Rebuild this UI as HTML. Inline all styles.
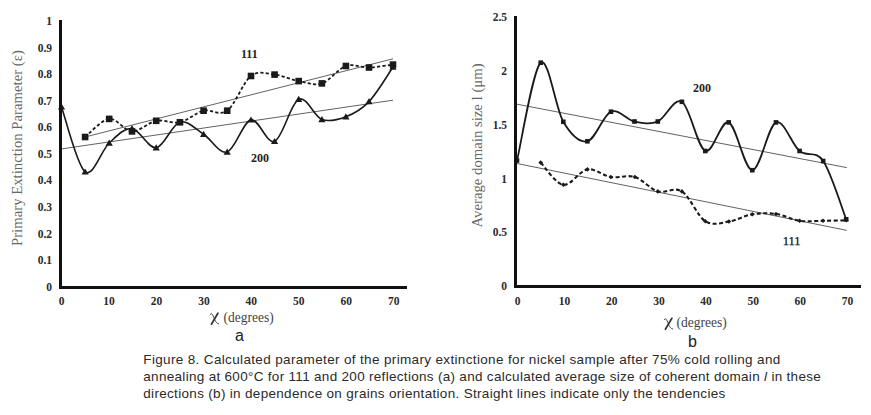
<!DOCTYPE html>
<html><head><meta charset="utf-8"><style>
html,body{margin:0;padding:0;background:#fff;width:871px;height:415px;overflow:hidden}
svg{position:absolute;left:0;top:0}
.cap{position:absolute;left:144px;top:350px;font-family:"Liberation Sans",sans-serif;font-size:13.4px;line-height:17.2px;color:#2a2a2a;white-space:nowrap}
</style></head><body>
<svg width="871" height="415" viewBox="0 0 871 415">
<g stroke="#3a3a3a" stroke-width="0.8" fill="none">
<line x1="85" y1="137" x2="393" y2="58.8"/>
<line x1="61" y1="149" x2="393" y2="100.2"/>
<line x1="517" y1="104.2" x2="846.8" y2="167.6"/>
<line x1="517" y1="163.5" x2="846.8" y2="230.4"/>
</g>
<g fill="none" stroke="#1a1a1a" stroke-width="1.8" stroke-linejoin="round">
<path d="M85.1,137.0 C89.1,134.0 101.4,119.8 109.2,118.9 C117.0,118.0 124.2,131.1 132.0,131.4 C139.8,131.7 148.2,122.3 156.2,120.8 C164.2,119.3 172.0,124.0 179.9,122.3 C187.8,120.6 195.7,112.6 203.6,110.7 C211.5,108.8 219.3,116.5 227.2,110.7 C235.1,104.9 243.1,82.0 251.0,76.0 C258.9,70.0 266.7,73.8 274.6,74.6 C282.6,75.4 290.8,79.6 298.7,81.1 C306.6,82.6 314.0,85.9 321.9,83.4 C329.8,80.9 338.0,68.7 345.9,66.0 C353.8,63.4 361.1,67.7 369.0,67.5 C376.9,67.3 389.0,65.1 393.0,64.6" stroke-width="1.8" stroke-dasharray="3.2,2.2"/>
<path d="M61.5,106.9 C65.4,117.7 77.1,165.9 85.1,171.9 C93.0,177.9 101.4,150.2 109.2,143.0 C117.0,135.8 124.2,127.8 132.0,128.6 C139.8,129.4 148.2,148.9 156.2,147.8 C164.2,146.7 172.0,124.2 179.9,122.0 C187.8,119.8 195.7,129.3 203.6,134.3 C211.5,139.3 219.3,154.4 227.2,152.0 C235.1,149.6 243.1,121.7 251.0,119.9 C258.9,118.1 266.7,144.8 274.6,141.4 C282.6,138.0 290.8,103.0 298.7,99.3 C306.6,95.6 314.0,116.6 321.9,119.5 C329.8,122.4 338.0,119.7 345.9,116.7 C353.8,113.7 361.1,109.9 369.0,101.6 C376.9,93.3 389.0,72.8 393.0,67.0" stroke-width="1.6"/>
<path d="M517.0,160.5 C521.0,144.2 533.0,69.2 540.7,62.7 C548.4,56.2 555.5,108.7 563.3,121.8 C571.1,134.9 579.4,143.0 587.4,141.3 C595.4,139.6 603.1,115.0 611.0,111.7 C618.9,108.4 626.7,119.9 634.5,121.5 C642.3,123.1 649.9,124.8 657.8,121.5 C665.7,118.2 674.0,96.9 681.9,101.8 C689.8,106.7 697.5,147.6 705.3,151.0 C713.1,154.4 720.9,119.2 728.7,122.4 C736.5,125.6 744.4,170.2 752.3,170.2 C760.2,170.2 768.1,125.6 776.0,122.4 C783.9,119.2 791.7,144.6 799.6,151.0 C807.5,157.4 815.4,149.6 823.2,161.0 C831.0,172.4 842.4,209.6 846.2,219.3"/>
<path d="M540.7,162.6 C544.5,166.3 555.5,183.7 563.3,184.8 C571.1,185.9 579.5,170.7 587.4,169.4 C595.3,168.1 602.9,175.7 610.8,177.0 C618.7,178.3 627.1,174.6 634.9,177.0 C642.7,179.4 650.0,189.0 657.8,191.4 C665.6,193.8 674.0,186.4 681.9,191.4 C689.8,196.4 697.5,216.2 705.3,221.2 C713.1,226.2 721.1,222.7 728.9,221.5 C736.7,220.3 744.4,215.6 752.3,214.3 C760.1,213.1 768.1,212.9 776.0,214.0 C783.9,215.1 791.8,219.7 799.6,220.8 C807.4,221.9 815.2,220.9 823.0,220.8 C830.8,220.7 842.4,220.4 846.3,220.3" stroke-width="2.1" stroke-dasharray="4,2.5"/>
</g>
<g fill="#1a1a1a">
<rect x="81.8" y="133.7" width="6.6" height="6.6"/>
<rect x="105.9" y="115.6" width="6.6" height="6.6"/>
<rect x="128.7" y="128.1" width="6.6" height="6.6"/>
<rect x="152.9" y="117.5" width="6.6" height="6.6"/>
<rect x="176.6" y="119.0" width="6.6" height="6.6"/>
<rect x="200.3" y="107.4" width="6.6" height="6.6"/>
<rect x="223.9" y="107.4" width="6.6" height="6.6"/>
<rect x="247.7" y="72.7" width="6.6" height="6.6"/>
<rect x="271.3" y="71.3" width="6.6" height="6.6"/>
<rect x="295.4" y="77.8" width="6.6" height="6.6"/>
<rect x="318.6" y="80.1" width="6.6" height="6.6"/>
<rect x="342.6" y="62.7" width="6.6" height="6.6"/>
<rect x="365.7" y="64.2" width="6.6" height="6.6"/>
<rect x="389.7" y="61.3" width="6.6" height="6.6"/>
<path d="M61.5,103.4 L65.1,109.6 L57.9,109.6 Z"/>
<path d="M85.1,168.4 L88.7,174.6 L81.5,174.6 Z"/>
<path d="M109.2,139.5 L112.8,145.7 L105.6,145.7 Z"/>
<path d="M132.0,125.1 L135.6,131.3 L128.4,131.3 Z"/>
<path d="M156.2,144.3 L159.8,150.5 L152.6,150.5 Z"/>
<path d="M179.9,118.5 L183.5,124.7 L176.3,124.7 Z"/>
<path d="M203.6,130.8 L207.2,137.0 L200.0,137.0 Z"/>
<path d="M227.2,148.5 L230.8,154.7 L223.6,154.7 Z"/>
<path d="M251.0,116.4 L254.6,122.6 L247.4,122.6 Z"/>
<path d="M274.6,137.9 L278.2,144.1 L271.0,144.1 Z"/>
<path d="M298.7,95.8 L302.3,102.0 L295.1,102.0 Z"/>
<path d="M321.9,116.0 L325.5,122.2 L318.3,122.2 Z"/>
<path d="M345.9,113.2 L349.5,119.4 L342.3,119.4 Z"/>
<path d="M369.0,98.1 L372.6,104.3 L365.4,104.3 Z"/>
<path d="M393.0,63.5 L396.6,69.7 L389.4,69.7 Z"/>
<rect x="514.7" y="158.2" width="4.6" height="4.6"/>
<rect x="538.4" y="60.4" width="4.6" height="4.6"/>
<rect x="561.0" y="119.5" width="4.6" height="4.6"/>
<rect x="585.1" y="139.0" width="4.6" height="4.6"/>
<rect x="608.7" y="109.4" width="4.6" height="4.6"/>
<rect x="632.2" y="119.2" width="4.6" height="4.6"/>
<rect x="655.5" y="119.2" width="4.6" height="4.6"/>
<rect x="679.6" y="99.5" width="4.6" height="4.6"/>
<rect x="703.0" y="148.7" width="4.6" height="4.6"/>
<rect x="726.4" y="120.1" width="4.6" height="4.6"/>
<rect x="750.0" y="167.9" width="4.6" height="4.6"/>
<rect x="773.7" y="120.1" width="4.6" height="4.6"/>
<rect x="797.3" y="148.7" width="4.6" height="4.6"/>
<rect x="820.9" y="158.7" width="4.6" height="4.6"/>
<rect x="843.9" y="217.0" width="4.6" height="4.6"/>
<path d="M540.7,160.3 L543.0,162.6 L540.7,164.9 L538.4,162.6 Z"/>
<path d="M563.3,182.5 L565.6,184.8 L563.3,187.1 L561.0,184.8 Z"/>
<path d="M587.4,167.1 L589.7,169.4 L587.4,171.7 L585.1,169.4 Z"/>
<path d="M610.8,174.7 L613.1,177.0 L610.8,179.3 L608.5,177.0 Z"/>
<path d="M634.9,174.7 L637.2,177.0 L634.9,179.3 L632.6,177.0 Z"/>
<path d="M657.8,189.1 L660.1,191.4 L657.8,193.7 L655.5,191.4 Z"/>
<path d="M681.9,189.1 L684.2,191.4 L681.9,193.7 L679.6,191.4 Z"/>
<path d="M705.3,218.9 L707.6,221.2 L705.3,223.5 L703.0,221.2 Z"/>
<path d="M728.9,219.2 L731.2,221.5 L728.9,223.8 L726.6,221.5 Z"/>
<path d="M752.3,212.0 L754.6,214.3 L752.3,216.6 L750.0,214.3 Z"/>
<path d="M776.0,211.7 L778.3,214.0 L776.0,216.3 L773.7,214.0 Z"/>
<path d="M799.6,218.5 L801.9,220.8 L799.6,223.1 L797.3,220.8 Z"/>
<path d="M823.0,218.5 L825.3,220.8 L823.0,223.1 L820.7,220.8 Z"/>
<path d="M846.3,218.0 L848.6,220.3 L846.3,222.6 L844.0,220.3 Z"/>
</g>
<g stroke="#111" stroke-width="3" fill="none">
<path d="M60.5,20 V287.5 H407"/>
<path d="M515.5,16 V286.5 H861"/>
</g>
<g font-family="Liberation Serif" font-weight="bold" font-size="11.5" fill="#2a2a2a">
<text x="52" y="290.6" text-anchor="end">0</text>
<text x="52" y="264.1" text-anchor="end">0.1</text>
<text x="52" y="237.5" text-anchor="end">0.2</text>
<text x="52" y="211.0" text-anchor="end">0.3</text>
<text x="52" y="184.4" text-anchor="end">0.4</text>
<text x="52" y="157.8" text-anchor="end">0.5</text>
<text x="52" y="131.3" text-anchor="end">0.6</text>
<text x="52" y="104.8" text-anchor="end">0.7</text>
<text x="52" y="78.2" text-anchor="end">0.8</text>
<text x="52" y="51.6" text-anchor="end">0.9</text>
<text x="52" y="25.1" text-anchor="end">1</text>
<text x="61.5" y="305" text-anchor="middle">0</text>
<text x="109.0" y="305" text-anchor="middle">10</text>
<text x="156.4" y="305" text-anchor="middle">20</text>
<text x="203.9" y="305" text-anchor="middle">30</text>
<text x="251.3" y="305" text-anchor="middle">40</text>
<text x="298.8" y="305" text-anchor="middle">50</text>
<text x="346.3" y="305" text-anchor="middle">60</text>
<text x="393.7" y="305" text-anchor="middle">70</text>
<text x="507" y="290.1" text-anchor="end">0</text>
<text x="507" y="236.3" text-anchor="end">0.5</text>
<text x="507" y="182.5" text-anchor="end">1</text>
<text x="507" y="128.7" text-anchor="end">1.5</text>
<text x="507" y="74.9" text-anchor="end">2</text>
<text x="507" y="21.1" text-anchor="end">2.5</text>
<text x="517.5" y="305" text-anchor="middle">0</text>
<text x="564.6" y="305" text-anchor="middle">10</text>
<text x="611.8" y="305" text-anchor="middle">20</text>
<text x="658.9" y="305" text-anchor="middle">30</text>
<text x="706.1" y="305" text-anchor="middle">40</text>
<text x="753.2" y="305" text-anchor="middle">50</text>
<text x="800.3" y="305" text-anchor="middle">60</text>
<text x="847.5" y="305" text-anchor="middle">70</text>
</g>
<text x="241" y="58" font-family="Liberation Serif" font-weight="bold" font-size="12" fill="#222">111</text>
<text x="251" y="162" font-family="Liberation Serif" font-weight="bold" font-size="12" fill="#222">200</text>
<text x="693" y="92" font-family="Liberation Serif" font-weight="bold" font-size="12" fill="#222">200</text>
<text x="782.8" y="245.2" font-family="Liberation Serif" font-size="12.5" fill="#111" stroke="#111" stroke-width="0.25">111</text>
<text transform="translate(21.6,246) rotate(-90)" font-family="Liberation Serif" font-size="14.75" fill="#666">Primary Extinction Parameter (&#949;)</text>
<text transform="translate(482,227.5) rotate(-90)" font-family="Liberation Serif" font-size="14.75" fill="#666">Average domain size l (&#956;m)</text>
<g fill="none" stroke="#333"><path d="M217.9,313.2 L211.4,324.2" stroke-width="1.7" stroke-linecap="round"/><path d="M209.9,314.8 Q211.2,312.6 212.6,314.6 C214.2,317.5 215,323.2 219,324" stroke-width="0.9"/></g>
<text x="223.6" y="321.7" font-family="Liberation Serif" font-size="14" fill="#444" textLength="50.1" lengthAdjust="spacingAndGlyphs">(degrees)</text>
<g transform="translate(454,5.1)" fill="none" stroke="#333"><path d="M217.9,313.2 L211.4,324.2" stroke-width="1.7" stroke-linecap="round"/><path d="M209.9,314.8 Q211.2,312.6 212.6,314.6 C214.2,317.5 215,323.2 219,324" stroke-width="0.9"/></g>
<text x="676.6" y="327" font-family="Liberation Serif" font-size="14" fill="#444" textLength="50.2" lengthAdjust="spacingAndGlyphs">(degrees)</text>
<text x="235" y="341" font-family="Liberation Sans" font-size="16" fill="#222">a</text>
<text x="688" y="346.5" font-family="Liberation Sans" font-size="16" fill="#222">b</text>
<g font-family="Liberation Sans" font-size="13.5" fill="#2a2a2a" lengthAdjust="spacing">
<text x="143.3" y="363.7" textLength="637" lengthAdjust="spacing">Figure 8. Calculated parameter of the primary extinctione for nickel sample after 75% cold rolling and</text>
<text x="143.3" y="380.7" textLength="677.5" lengthAdjust="spacing">annealing at 600&#176;C for 111 and 200 reflections (a) and calculated average size of coherent domain <tspan font-style="italic">l</tspan> in these</text>
<text x="143.3" y="397.8" textLength="582" lengthAdjust="spacing">directions (b) in dependence on grains orientation. Straight lines indicate only the tendencies</text>
</g>
</svg>
</body></html>
